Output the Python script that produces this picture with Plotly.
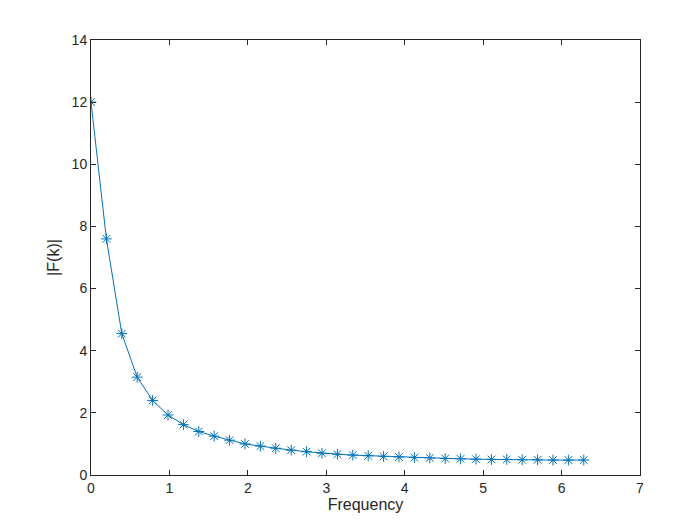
import plotly.graph_objects as go
import numpy as np

freq = [i * 2 * np.pi / 32 for i in range(33)]
mag = [12.0, 7.6, 4.55, 3.15, 2.4, 1.93, 1.62, 1.4, 1.25, 1.12, 1.0, 0.93, 0.86, 0.8,
       0.75, 0.7, 0.67, 0.64, 0.62, 0.6, 0.58, 0.56, 0.55, 0.53, 0.52, 0.51, 0.5, 0.5,
       0.49, 0.49, 0.48, 0.48, 0.48]

fig = go.Figure(go.Scatter(x=freq, y=mag, mode="lines+markers",
                           line=dict(color="#0072BD", width=1),
                           marker=dict(symbol="asterisk-open", size=9,
                                       line=dict(color="#0072BD", width=1))))
ax = dict(showline=True, mirror="ticks", linecolor="#262626", linewidth=1,
          ticks="inside", ticklen=5, tickcolor="#262626", showgrid=False,
          zeroline=False, tickfont=dict(size=14, color="#262626"))
fig.update_xaxes(range=[0, 7], dtick=1, title=dict(text="Frequency", font=dict(size=16, color="#262626"), standoff=4), **ax)
fig.update_yaxes(range=[0, 14], dtick=2, title=dict(text="|F(k)|", font=dict(size=16, color="#262626"), standoff=8), **ax)
fig.update_layout(width=700, height=525, margin=dict(l=83, r=68, t=32, b=58),
                  paper_bgcolor="white", plot_bgcolor="white", showlegend=False,
                  font=dict(family="Liberation Sans, Arial"))
fig.write_html("out.html")
